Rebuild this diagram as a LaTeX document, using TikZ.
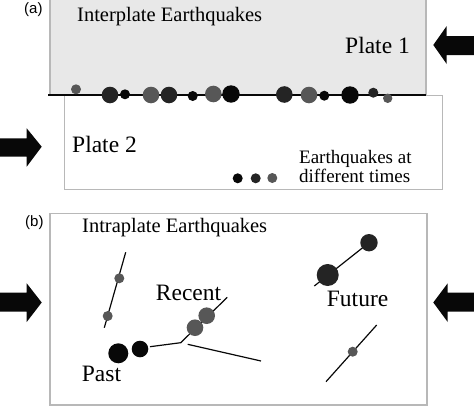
\documentclass[tikz,border=0pt]{standalone}
\usepackage{fontspec}
\setmainfont{Liberation Serif}
\setsansfont{Liberation Sans}

\definecolor{qblack}{gray}{0.03}
\definecolor{qdark}{gray}{0.14}
\definecolor{qgray}{gray}{0.34}
\definecolor{platefill}{gray}{0.91}
\definecolor{plateedge}{gray}{0.72}

\begin{document}
\begin{tikzpicture}[x = 1pt, y = -1pt]
\tikzstyle{QuakeStyle}=[shape = circle,
                        inner sep = 0pt,
                        draw = none]
\tikzstyle{TextStyle}=[inner sep = 0pt, anchor = base west]
\tikzstyle{BigText}=[TextStyle, font = \fontsize{23.5}{26}\selectfont]
\tikzstyle{TitleText}=[TextStyle, font = \fontsize{20.5}{23}\selectfont]
\tikzstyle{KeyText}=[inner sep = 0pt, anchor = west, align = left, font = \fontsize{19}{16.5}\selectfont]
\tikzstyle{PanelText}=[TextStyle, font = \sffamily\fontsize{15}{17}\selectfont]
\tikzstyle{ArrowStyle}=[fill = qblack]
\tikzstyle{FaultStyle}=[line width = 1.2pt, qblack]
\useasboundingbox (0,0) rectangle (474,407);
% (a) plates
\draw[draw = plateedge, line width = 1pt] (64,95) rectangle (442,189.3);
\draw[fill = platefill, draw = plateedge, line width = 1.2pt] (50,-2) rectangle (426,95);
\coordinate (faultW) at (48,95);
\coordinate (faultE) at (426,95);
\draw[line width = 2pt, qblack] (faultW) -- (faultE);
\fill[ArrowStyle] (474,36) -- (446.7,36) -- (446.7,26) -- (433.3,45) -- (446.7,64) -- (446.7,55) -- (474,55) -- cycle;
\fill[ArrowStyle] (0,138.3) -- (26.7,138.3) -- (26.7,128.3) -- (41.7,146.7) -- (26.7,166.7) -- (26.7,156.7) -- (0,156.7) -- cycle;
\node[PanelText] (panelA) at (24,13) {(a)};
\node[TitleText] (interLabel) at (77,21.7) {Interplate Earthquakes};
\node[BigText, anchor = base east] (plate1) at (410,53.3) {Plate 1};
\node[BigText] (plate2) at (72,152) {Plate 2};
\node[KeyText] (legend) at (299,166.7) {Earthquakes at\\different times};
% interplate quakes
\node[QuakeStyle, fill = qgray, minimum size = 10pt] (a1) at (76,89.3) {};
\node[QuakeStyle, fill = qdark, minimum size = 16.6pt] (a2) at (110,95) {};
\node[QuakeStyle, fill = qblack, minimum size = 10pt] (a3) at (125,94.3) {};
\node[QuakeStyle, fill = qgray, minimum size = 16.6pt] (a4) at (151,95) {};
\node[QuakeStyle, fill = qdark, minimum size = 16.6pt] (a5) at (169,95) {};
\node[QuakeStyle, fill = qblack, minimum size = 10pt] (a6) at (192.7,96) {};
\node[QuakeStyle, fill = qgray, minimum size = 16.6pt] (a7) at (213.3,94) {};
\node[QuakeStyle, fill = qblack, minimum size = 17.4pt] (a8) at (231,94) {};
\node[QuakeStyle, fill = qdark, minimum size = 16.6pt] (a9) at (284.3,94.5) {};
\node[QuakeStyle, fill = qgray, minimum size = 16.6pt] (a10) at (309,95) {};
\node[QuakeStyle, fill = qblack, minimum size = 10pt] (a11) at (324.3,95.7) {};
\node[QuakeStyle, fill = qblack, minimum size = 17.4pt] (a12) at (350,95) {};
\node[QuakeStyle, fill = qdark, minimum size = 10pt] (a13) at (373.3,92.7) {};
\node[QuakeStyle, fill = qgray, minimum size = 9.4pt] (a14) at (387.7,98.3) {};
\node[QuakeStyle, fill = qblack, minimum size = 10pt] (key1) at (237.7,178.3) {};
\node[QuakeStyle, fill = qdark, minimum size = 10pt] (key2) at (255.7,178.3) {};
\node[QuakeStyle, fill = qgray, minimum size = 10pt] (key3) at (272.3,178) {};
% (b) plate interior
\draw[draw = plateedge, line width = 1.5pt] (50,213.3) rectangle (427,405);
\fill[ArrowStyle] (0,292.7) -- (26.7,292.7) -- (26.7,283.3) -- (41.7,302.5) -- (26.7,322) -- (26.7,311.5) -- (0,311.5) -- cycle;
\fill[ArrowStyle] (474,292.7) -- (447.7,292.7) -- (447.7,283.3) -- (433.3,302.5) -- (447.7,322) -- (447.7,311.7) -- (474,311.7) -- cycle;
\node[PanelText] (panelB) at (25,226) {(b)};
\node[TitleText] (intraLabel) at (82,232) {Intraplate Earthquakes};
\node[BigText] (recent) at (155.7,300) {Recent};
\node[BigText] (past) at (81.7,381.7) {Past};
\node[BigText] (future) at (326.7,306.7) {Future};
\coordinate (l1top) at (125.7,252.3);
\coordinate (l1bot) at (104.3,327.7);
\coordinate (l2top) at (227.3,297.3);
\coordinate (l2bend) at (180.7,342.7);
\coordinate (l2end) at (150,346.7);
\coordinate (l3w) at (187.7,344.3);
\coordinate (l3e) at (261,361);
\coordinate (l4bot) at (314.3,286);
\coordinate (l4top) at (369,242.7);
\coordinate (l5top) at (376.7,325);
\coordinate (l5bot) at (326,381.7);
\draw[FaultStyle] (l1top) -- (l1bot);
\draw[FaultStyle] (l2top) -- (l2bend) -- (l2end);
\draw[FaultStyle] (l3w) -- (l3e);
\draw[FaultStyle] (l4bot) -- (l4top);
\draw[FaultStyle] (l5top) -- (l5bot);
\node[QuakeStyle, fill = qgray, minimum size = 10pt] (b1) at (119.3,278.3) {};
\node[QuakeStyle, fill = qgray, minimum size = 10pt] (b2) at (107.7,316) {};
\node[QuakeStyle, fill = qgray, minimum size = 16.6pt] (b3) at (206.7,315.7) {};
\node[QuakeStyle, fill = qgray, minimum size = 16.6pt] (b4) at (195,327.7) {};
\node[QuakeStyle, fill = qblack, minimum size = 16.6pt] (b5) at (140,349) {};
\node[QuakeStyle, fill = qblack, minimum size = 20pt] (b6) at (118.3,353.3) {};
\node[QuakeStyle, fill = qdark, minimum size = 22pt] (b7) at (327.7,275) {};
\node[QuakeStyle, fill = qdark, minimum size = 17.4pt] (b8) at (369,242.7) {};
\node[QuakeStyle, fill = qgray, minimum size = 10pt] (b9) at (352.7,351.7) {};
\end{tikzpicture}
\end{document}
